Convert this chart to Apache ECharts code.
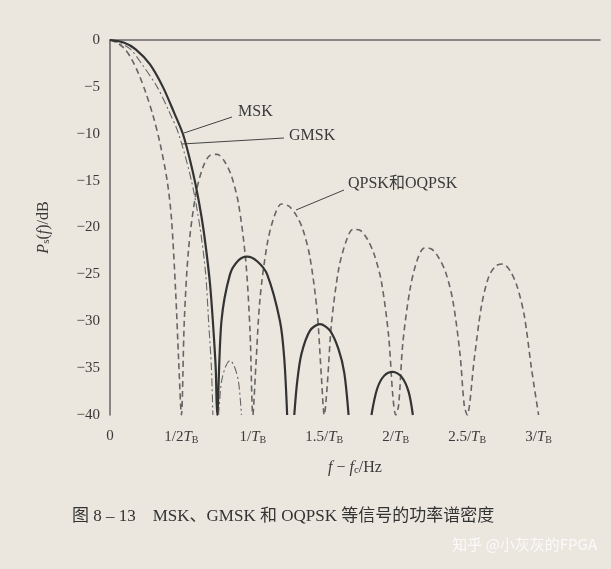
<!DOCTYPE html>
<html>
<head>
<meta charset="utf-8">
<script src="https://cdn.jsdelivr.net/npm/echarts@6/dist/echarts.min.js"></script>
<style>html,body{margin:0;padding:0;background:#ebe7df;}#chart{width:611px;height:569px;}</style>
</head>
<body>
<div id="chart"></div>
<script>
// 数据，x 单位 1/T_B，y 单位 dB
var xTicks = [0, 0.5, 1, 1.5, 2, 2.5, 3];
var xTickLabels = ['0', '1/2{i|T}{s|B}', '1/{i|T}{s|B}', '1.5/{i|T}{s|B}', '2/{i|T}{s|B}', '2.5/{i|T}{s|B}', '3/{i|T}{s|B}'];
var yTicks = [0, -5, -10, -15, -20, -25, -30, -35, -40];

var msk = [
    [0, 0], [0.1, -0.3], [0.18, -1], [0.28, -2.6], [0.37, -5], [0.45, -7.8], [0.51, -10], [0.56, -12.8], [0.6, -15.5],
    [0.64, -18.8], [0.67, -22], [0.7, -26], [0.72, -30], [0.74, -35], [0.75, -40],
    [0.78, -30], [0.84, -25], [0.9, -23.5], [0.96, -23.1], [1.03, -23.6], [1.1, -25], [1.19, -30], [1.22, -34], [1.24, -40],
    '-',
    [1.29, -40], [1.31, -36.5], [1.34, -33.5], [1.4, -31], [1.47, -30.3], [1.54, -31], [1.6, -33], [1.64, -35.5], [1.67, -40],
    '-',
    [1.83, -40], [1.87, -37.2], [1.92, -35.8], [1.98, -35.4], [2.04, -35.9], [2.09, -37.5], [2.12, -40]
];
var gmsk = [
    [0, 0], [0.08, -0.4], [0.145, -1], [0.22, -2.5], [0.33, -5], [0.41, -7.5], [0.48, -10], [0.57, -15],
    [0.63, -20], [0.67, -25], [0.69, -30], [0.71, -35], [0.72, -40],
    '-',
    [0.76, -40], [0.78, -36.5], [0.81, -34.8], [0.84, -34.2], [0.87, -34.8], [0.9, -36.5], [0.92, -40]
];
var qpsk = [
    [0, 0], [0.05, -0.3], [0.1, -0.9], [0.15, -2], [0.2, -3.6], [0.25, -5.6], [0.3, -8], [0.35, -11], [0.4, -15],
    [0.43, -19], [0.46, -27], [0.48, -34], [0.5, -40],
    [0.52, -30], [0.55, -22.3], [0.6, -16.5], [0.65, -13.6], [0.7, -12.3], [0.75, -12.2], [0.8, -12.9], [0.85, -14.5],
    [0.9, -17.5], [0.95, -23.5], [0.98, -31], [1, -40],
    [1.02, -35], [1.05, -27.6], [1.1, -21.8], [1.15, -18.8], [1.2, -17.5], [1.25, -17.7], [1.3, -18.6], [1.35, -20.2],
    [1.4, -23.2], [1.45, -29], [1.48, -36], [1.5, -40],
    [1.52, -37], [1.55, -30.3], [1.6, -24.5], [1.65, -21.6], [1.7, -20.2], [1.75, -20.3], [1.8, -21.2], [1.85, -22.9],
    [1.9, -25.8], [1.95, -31.5], [1.98, -38], [2, -40],
    [2.02, -39], [2.05, -32.3], [2.1, -26.6], [2.15, -23.5], [2.2, -22.2], [2.25, -22.3], [2.3, -23.2], [2.35, -24.8],
    [2.4, -27.8], [2.45, -33.5], [2.48, -39], [2.5, -40],
    [2.55, -34], [2.6, -28.4], [2.65, -25.3], [2.7, -24.1], [2.75, -23.9], [2.8, -24.6], [2.85, -26.3], [2.9, -29.4],
    [2.95, -35], [3, -40]
];

var chart = echarts.init(document.getElementById('chart'));
var serif = 'Liberation Serif';
var ink = '#3a3a3a';

var option = {
    backgroundColor: '#ebe7df',
    animation: false,
    grid: { left: 110, right: 11, top: 40, bottom: 154 },
    xAxis: {
        type: 'value', min: 0, max: 3.43, interval: 0.5,
        axisLine: { lineStyle: { color: '#666', width: 1.5 } },
        axisTick: { show: false },
        splitLine: { show: false },
        axisLabel: {
            showMaxLabel: false, margin: 14, color: ink, fontFamily: serif, fontSize: 15,
            formatter: function (v) {
                var i = xTicks.indexOf(Math.round(v * 2) / 2);
                return i >= 0 ? xTickLabels[i] : '';
            },
            rich: {
                i: { fontStyle: 'italic', fontFamily: serif, fontSize: 15, color: ink },
                s: { fontFamily: serif, fontSize: 10, color: ink, verticalAlign: 'bottom', padding: [6, 0, 0, 0] }
            }
        },
        name: '{i|f} − {i|f}{s|c}/Hz', nameLocation: 'middle', nameGap: 44,
        nameTextStyle: {
            fontFamily: serif, fontSize: 16, color: ink,
            rich: {
                i: { fontStyle: 'italic', fontFamily: serif, fontSize: 16, color: ink },
                s: { fontFamily: serif, fontSize: 11, color: ink, padding: [6, 0, 0, 0] }
            }
        }
    },
    yAxis: {
        type: 'value', min: -40, max: 0, interval: 5,
        axisLine: { show: true, lineStyle: { color: '#666', width: 1.5 } },
        axisTick: { show: false },
        splitLine: { show: false },
        axisLabel: {
            margin: 10, color: ink, fontFamily: serif, fontSize: 15,
            formatter: function (v) { return yTicks.indexOf(v) >= 0 ? String(v).replace('-', '−') : ''; }
        },
        name: '{i|P}{s|s}({i|f})/dB', nameLocation: 'middle', nameGap: 58, nameRotate: 90,
        nameTextStyle: {
            fontFamily: serif, fontSize: 16, color: ink,
            rich: {
                i: { fontStyle: 'italic', fontFamily: serif, fontSize: 16, color: ink },
                s: { fontFamily: serif, fontSize: 11, color: ink, padding: [6, 0, 0, 0] }
            }
        }
    },
    series: [
        { name: 'QPSK和OQPSK', type: 'line', data: qpsk, showSymbol: false, connectNulls: false, smooth: 0.3,
          lineStyle: { color: '#666', width: 1.6, type: [6, 4] } },
        { name: 'GMSK', type: 'line', data: gmsk, showSymbol: false, connectNulls: false, smooth: 0.3,
          lineStyle: { color: '#666', width: 1.1, type: [8, 3, 2, 3] } },
        { name: 'MSK', type: 'line', data: msk, showSymbol: false, connectNulls: false, smooth: 0.3,
          lineStyle: { color: '#333', width: 2.2 } }
    ],
    graphic: [
        { type: 'line', shape: { x1: 184, y1: 133, x2: 232, y2: 117 }, style: { stroke: '#444', lineWidth: 1 } },
        { type: 'text', left: 238, top: 104, style: { text: 'MSK', font: '16px "Liberation Serif"', fill: ink } },
        { type: 'line', shape: { x1: 182, y1: 144, x2: 284, y2: 138 }, style: { stroke: '#444', lineWidth: 1 } },
        { type: 'text', left: 289, top: 128, style: { text: 'GMSK', font: '16px "Liberation Serif"', fill: ink } },
        { type: 'line', shape: { x1: 296, y1: 210, x2: 344, y2: 190 }, style: { stroke: '#444', lineWidth: 1 } },
        { type: 'text', left: 348, top: 176, style: { text: 'QPSK和OQPSK', font: '16px "Liberation Serif", "Noto Sans CJK SC"', fill: ink } },
        { type: 'text', left: 72, top: 508, style: { text: '图 8 – 13    MSK、GMSK 和 OQPSK 等信号的功率谱密度', font: '17px "Liberation Serif", "Noto Sans CJK SC"', fill: '#333' } },
        { type: 'text', right: 14, top: 537, style: { text: '知乎 @小灰灰的FPGA', font: '15px "Noto Sans CJK SC"', fill: '#fafafa' } }
    ]
};
chart.setOption(option);
</script>
</body>
</html>
